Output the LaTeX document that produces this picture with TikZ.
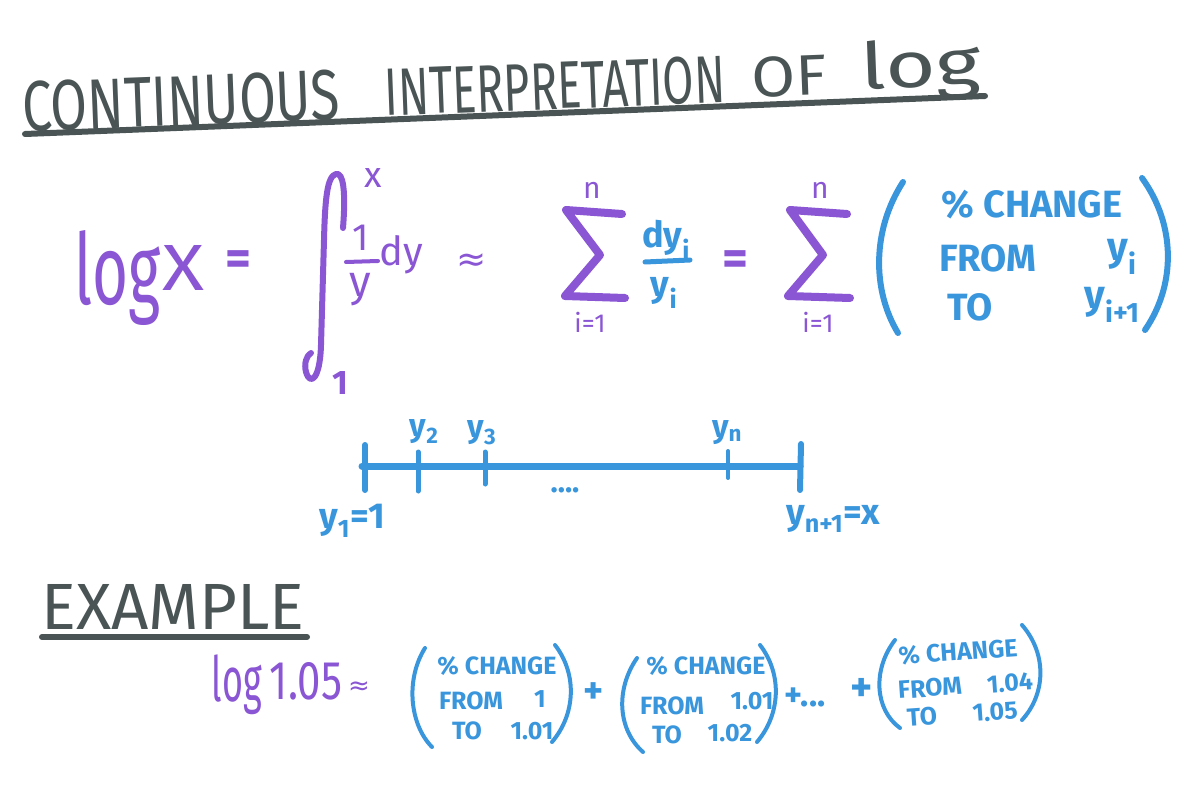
\documentclass[tikz,border=0pt]{standalone}
\usepackage{fontspec}
\usepackage{graphicx}
\setmainfont{Fira Sans}
\newfontfamily\djv{DejaVu Sans}
\definecolor{ink}{RGB}{74,84,84}
\definecolor{pur}{RGB}{138,86,212}
\definecolor{blu}{RGB}{58,150,220}
\newcommand{\fs}[1]{\fontsize{#1}{#1}\selectfont}
\tikzset{
  ttl/.style={text=ink, inner sep=0pt},
  ptx/.style={text=pur, inner sep=0pt},
  btx/.style={text=blu, inner sep=0pt, font=\bfseries},
  pstroke/.style={draw=pur, line width=7pt, line cap=round, line join=round},
  bstroke/.style={draw=blu, line width=6pt, line cap=round, line join=round},
  thinb/.style={draw=blu, line width=4pt, line cap=round, line join=round},
  inkline/.style={draw=ink, line width=6pt, line cap=round},
}
\begin{document}
\begin{tikzpicture}[x=1pt,y=-1pt]
\useasboundingbox (0,0) rectangle (1200,797);
\fill[white] (0,0) rectangle (1200,797);

% ---------- title ----------
\node[ttl, rotate=2.2] (t1) at (181,101) {\resizebox{318pt}{50pt}{CONTINUOUS}};
\node[ttl, rotate=2.2] (t2) at (555,86) {\resizebox{340pt}{47pt}{INTERPRETATION}};
\node[ttl, rotate=2.2] (t3) at (789,76) {\resizebox{75pt}{40pt}{OF}};
\node[ttl, rotate=2.2] (t4) at (921,70) {\resizebox*{120pt}{62pt}{log}};
\coordinate (u1) at (25,134);
\coordinate (u2) at (985,96);
\draw[inkline] (u1) -- (u2);

% ---------- main formula ----------
\node[ptx] (log) at (118,278) {\resizebox*{86pt}{95pt}{log}};
\node[ptx] (xx) at (184,268) {\resizebox{42pt}{45pt}{X}};
\node[ptx] (eq1) at (238,263) {\fs{50}\bfseries =};
% integral
\draw[pstroke, line width=6pt] (343,228) .. controls (346,190) and (343,172) .. (336,174)
   .. controls (327,176) and (325,200) .. (324,240) -- (321,345)
   .. controls (320,380) and (310,386) .. (306,372)
   .. controls (304,364) and (306,356) .. (311,353);
\node[ptx] (ulim) at (373,178) {\fs{36}x};
\node[ptx] (llim) at (340,383) {\fs{34}\bfseries 1};
\node[ptx] (one) at (361,238) {\fs{38}1};
\coordinate (fb1) at (346,262);
\coordinate (fb2) at (378,261);
\draw[pstroke, line width=4pt] (fb1) -- (fb2);
\node[ptx] (yy) at (360,290) {\fs{44}y};
\node[ptx] (dy) at (401,255) {\fs{40}dy};
\node[ptx] (ap1) at (472,263) {\djv\fs{36}≈};
% sum 1
\draw[pstroke, line width=8pt] (622,214) -- (566,210) -- (600,255) -- (565,296) -- (625,298);
\node[ptx] (n1) at (592,190) {\fs{30}n};
\node[ptx] (i1) at (590,322) {\fs{26}i=1};
\node[btx] (dyi) at (666,240) {\fs{36}dy\textsubscript{i}};
\coordinate (fc1) at (645,262);
\coordinate (fc2) at (690,260);
\draw[bstroke, line width=5pt] (fc1) -- (fc2);
\node[btx] (yid) at (664,293) {\fs{36}y\textsubscript{i}};
\node[ptx] (eq2) at (735,263) {\fs{50}\bfseries =};
% sum 2
\draw[pstroke, line width=8pt] (847,214) -- (790,210) -- (823,255) -- (788,296) -- (850,298);
\node[ptx] (n2) at (820,190) {\fs{30}n};
\node[ptx] (i2) at (818,322) {\fs{26}i=1};
% parens
\draw[bstroke] (903,182) .. controls (872,230) and (872,290) .. (898,333);
\draw[bstroke] (1142,178) .. controls (1176,225) and (1176,285) .. (1145,330);
\node[btx] (pc0) at (1032,205) {\fs{38}\% CHANGE};
\node[btx] (fr0) at (988,258) {\fs{38}FROM};
\node[btx] (yi0) at (1122,257) {\fs{40}y\textsubscript{i}};
\node[btx] (to0) at (970,307) {\fs{38}TO};
\node[btx] (yn0) at (1112,305) {\fs{40}y\textsubscript{i+1}};

% ---------- number line ----------
\coordinate (a) at (362,466);
\coordinate (b) at (800,466);
\draw[bstroke, line width=7pt] (a) -- (b);
\coordinate (k1a) at (365,445); \coordinate (k1b) at (365,490);
\coordinate (k2a) at (418,452); \coordinate (k2b) at (418,491);
\coordinate (k3a) at (485,452); \coordinate (k3b) at (485,484);
\coordinate (k4a) at (728,451); \coordinate (k4b) at (728,478);
\coordinate (k5a) at (801,444); \coordinate (k5b) at (800,490);
\draw[bstroke] (k1a) -- (k1b);
\draw[bstroke, line width=5pt] (k2a) -- (k2b);
\draw[bstroke, line width=5pt] (k3a) -- (k3b);
\draw[bstroke, line width=4pt] (k4a) -- (k4b);
\draw[bstroke] (k5a) -- (k5b);
\node[btx] (l2) at (424,432) {\fs{32}y\textsubscript{2}};
\node[btx] (l3) at (482,433) {\fs{32}y\textsubscript{3}};
\node[btx] (ln) at (727,433) {\fs{32}y\textsubscript{n}};
\node[btx] (dots) at (565,490) {\fs{30}....};
\node[btx] (l1) at (352,521) {\fs{36}y\textsubscript{1}=1};
\node[btx] (lx) at (833,519) {\fs{36}y\textsubscript{n+1}=x};

% ---------- example ----------
\node[ttl] (ex) at (173,607) {\resizebox{263pt}{45pt}{EXAMPLE}};
\coordinate (e1) at (42,637);
\coordinate (e2) at (307,637);
\draw[inkline] (e1) -- (e2);

\node[ptx] (elog) at (237,685) {\resizebox*{50pt}{60pt}{log}};
\node[ptx] (e105) at (306,681) {\resizebox{72pt}{37pt}{1.05}};
\node[ptx] (eap) at (359,688) {\djv\fs{26}≈};

% group 1
\draw[thinb] (425,648) .. controls (405,680) and (410,725) .. (432,747);
\draw[thinb] (555,645) .. controls (578,675) and (575,715) .. (552,742);
\node[btx] (g1a) at (497,666) {\fs{25}\% CHANGE};
\node[btx] (g1b) at (471,701) {\fs{25}FROM};
\node[btx] (g1c) at (540,699) {\fs{25}1};
\node[btx] (g1d) at (467,731) {\fs{25}TO};
\node[btx] (g1e) at (532,731) {\fs{25}1.01};
\node[btx] (pl1) at (594,693) {\fs{38}+};

% group 2
\draw[thinb] (637,658) .. controls (615,690) and (618,730) .. (643,752);
\draw[thinb] (760,645) .. controls (783,675) and (780,715) .. (757,742);
\node[btx] (g2a) at (706,666) {\fs{25}\% CHANGE};
\node[btx] (g2b) at (672,706) {\fs{25}FROM};
\node[btx] (g2c) at (752,701) {\fs{25}1.01};
\node[btx] (g2d) at (667,735) {\fs{25}TO};
\node[btx] (g2e) at (730,733) {\fs{25}1.02};
\node[btx] (pl2) at (805,697) {\fs{34}+...};
\node[btx] (pl3) at (862,690) {\fs{42}+};

% group 3
\draw[thinb] (895,640) .. controls (872,670) and (875,710) .. (900,728);
\draw[thinb] (1022,625) .. controls (1048,655) and (1045,695) .. (1022,720);
\node[btx, rotate=4] (g3a) at (958,652) {\fs{25}\% CHANGE};
\node[btx, rotate=4] (g3b) at (930,688) {\fs{25}FROM};
\node[btx, rotate=4] (g3c) at (1010,683) {\fs{25}1.04};
\node[btx, rotate=4] (g3d) at (922,717) {\fs{25}TO};
\node[btx, rotate=4] (g3e) at (995,712) {\fs{25}1.05};
\end{tikzpicture}
\end{document}
